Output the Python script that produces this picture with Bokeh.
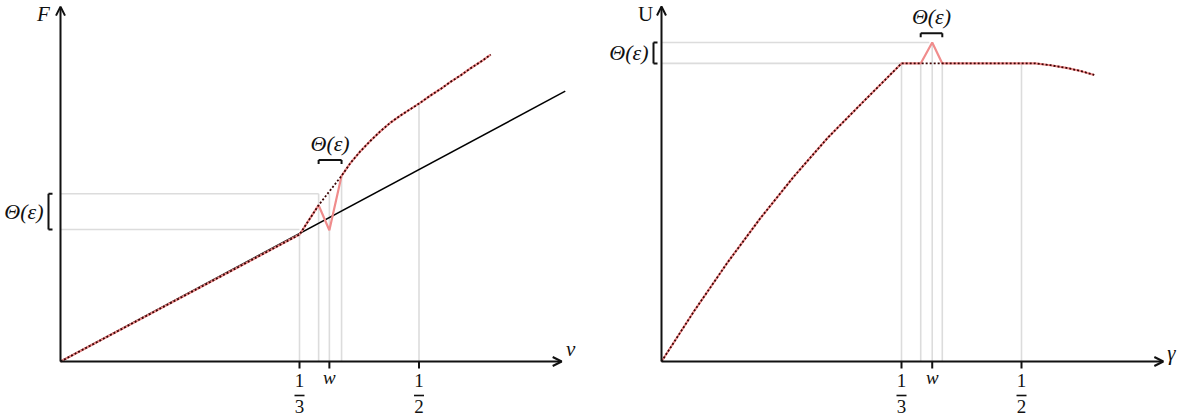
from bokeh.plotting import figure
from bokeh.layouts import row
from bokeh.models import Arrow, OpenHead, Range1d
from bokeh.core.properties import value
from bokeh.embed import file_html
from bokeh.resources import INLINE

# ---------------- data: left panel (F against nu) ----------------
W_LEFT = 0.375
nu_main = [0.0, 1/3, 0.360, 0.392, 0.4045, 0.418, 0.432, 0.446, 0.460, 0.474, 0.488, 0.502,
           0.516, 0.530, 0.544, 0.558, 0.572, 0.586, 0.600]
F_main = [0.0, 0.177, 0.218, 0.259, 0.277, 0.293, 0.3075, 0.321, 0.333, 0.343, 0.352, 0.361,
          0.371, 0.380, 0.390, 0.399, 0.409, 0.418, 0.428]
nu_dip = [0.360, 0.375, 0.392]
F_dip = [0.218, 0.183, 0.259]
nu_lin = [0.0, 0.704]
F_lin = [0.0, 0.377]
nu_vlines = [1/3, 0.360, 0.375, 0.392, 0.5]
F_vtops = [0.177, 0.234, 0.234, 0.259, 0.360]
F_hlines = [0.234, 0.184]
nu_hends = [0.360, 1/3]
nu_ticks = [1/3, W_LEFT, 0.5]

# ---------------- data: right panel (U against gamma) ----------------
W_RIGHT = 0.376
g_main = [0.0, 0.0458, 0.0917, 0.1375, 0.1833, 0.2306, 0.2764, 1/3, 0.360, 0.390, 0.519,
          0.540, 0.564, 0.582, 0.601]
U_main = [0.0, 0.0708, 0.1375, 0.1993, 0.2563, 0.3104, 0.3569, 0.414, 0.414, 0.414, 0.414,
          0.4115, 0.4075, 0.4035, 0.398]
g_bump = [0.360, 0.376, 0.390]
U_bump = [0.414, 0.443, 0.414]
g_vlines = [1/3, 0.360, 0.376, 0.390, 0.5]
U_vtops = [0.414, 0.414, 0.443, 0.414, 0.414]
U_hlines = [0.443, 0.414]
g_hends = [0.372, 1/3]
g_ticks = [1/3, W_RIGHT, 0.5]

tick_top = ["1", "w", "1"]
tick_bottom = ["3", "", "2"]
theta_label = "Θ(ε)"

FONT = value("Liberation Serif")
LIGHT_RED = "#f08c8c"
DOT = "#3a0404"
GRAY = "#dcdcdc"
AX = "#111111"


def perturbed(xs, ys, px, py):
    """Main curve with its piece between px[0] and px[-1] replaced by the perturbation."""
    out_x = [x for x in xs if x < px[0]] + list(px) + [x for x in xs if x > px[-1]]
    out_y = [y for x, y in zip(xs, ys) if x < px[0]] + list(py) + \
            [y for x, y in zip(xs, ys) if x > px[-1]]
    return out_x, out_y


def make_panel(width, scale, x_left_px, vx, vtop, hy, hend):
    d = 1.0 / scale  # data units per pixel
    x0 = -x_left_px * d
    y1 = 361 * d
    p = figure(width=width, height=418, output_backend="svg", toolbar_location=None,
               x_range=Range1d(x0, x0 + width * d), y_range=Range1d(y1 - 418 * d, y1),
               x_axis_location=None, y_axis_location=None, min_border=0)
    p.grid.visible = False
    p.outline_line_color = None
    p.background_fill_color = "white"
    # gray guide lines
    p.segment(x0=vx, y0=[0] * len(vx), x1=vx, y1=vtop, line_color=GRAY, line_width=1.6)
    p.segment(x0=[0] * len(hy), y0=hy, x1=hend, y1=hy, line_color=GRAY, line_width=1.6)
    return p, d


# ---------------- left panel ----------------
pL, dL = make_panel(598, 717, 60, nu_vlines, F_vtops, F_hlines, nu_hends)
pL.line(nu_lin, F_lin, line_color="black", line_width=1.5)
xl, yl = perturbed(nu_main, F_main, nu_dip, F_dip)
pL.line(xl, yl, line_color=LIGHT_RED, line_width=2.2)
pL.line(nu_main, F_main, line_color=DOT, line_width=1.8, line_dash="2 2")

# ---------------- right panel ----------------
pR, dR = make_panel(582, 720, 63, g_vlines, U_vtops, U_hlines, g_hends)
xr, yr = perturbed(g_main, U_main, g_bump, U_bump)
pR.line(xr, yr, line_color=LIGHT_RED, line_width=2.2)
pR.line(g_main, U_main, line_color=DOT, line_width=1.8, line_dash="2 2")


def decorate(p, d, x_end, y_end, xlab, ylab, ylab_italic, ticks, lo, hi, br_lo, br_hi, br_w,
             ylab_dx, xlab_dy, xlab_dx):
    # axes with arrows
    p.add_layout(Arrow(end=OpenHead(size=9, line_width=2, line_color=AX), x_start=0, y_start=0,
                       x_end=x_end, y_end=0, line_width=2, line_color=AX))
    p.add_layout(Arrow(end=OpenHead(size=9, line_width=2, line_color=AX), x_start=0, y_start=0,
                       x_end=0, y_end=y_end, line_width=2, line_color=AX))
    p.text(x=[x_end], y=[0], text=[xlab], x_offset=xlab_dx, y_offset=xlab_dy, text_font=FONT,
           text_font_size="21px", text_font_style="italic", text_align="center",
           text_baseline="middle", text_color=AX)
    p.text(x=[0], y=[y_end], text=[ylab], x_offset=ylab_dx, y_offset=7, text_font=FONT,
           text_font_size="21px", text_font_style="italic" if ylab_italic else "normal",
           text_align="center", text_baseline="middle", text_color=AX)
    # ticks and fraction labels
    p.segment(x0=ticks, y0=[0] * 3, x1=ticks, y1=[-7 * d] * 3, line_color=AX, line_width=2)
    p.text(x=ticks, y=[0] * 3, text=tick_top, y_offset=[19, 16, 19], text_font=FONT,
           text_font_size="19px", text_font_style=["normal", "italic", "normal"],
           text_align="center", text_baseline="middle", text_color=AX)
    fr = [ticks[0], ticks[2]]
    p.segment(x0=[t - 5 * d for t in fr], y0=[-34 * d] * 2, x1=[t + 5 * d for t in fr],
              y1=[-34 * d] * 2, line_color=AX, line_width=1.6)
    p.text(x=fr, y=[0, 0], text=[tick_bottom[0], tick_bottom[2]], y_offset=45, text_font=FONT,
           text_font_size="19px", text_align="center", text_baseline="middle", text_color=AX)
    # top bracket with Θ(ε)
    p.segment(x0=[lo], y0=[br_hi], x1=[hi], y1=[br_hi], line_color=AX, line_width=2)
    p.segment(x0=[lo, hi], y0=[br_hi, br_hi], x1=[lo, hi], y1=[br_hi - 4 * d] * 2,
              line_color=AX, line_width=2)
    p.text(x=[(lo + hi) / 2], y=[br_hi], text=[theta_label], y_offset=-17, text_font=FONT,
           text_font_size="22px", text_font_style="italic", text_align="center",
           text_baseline="middle", text_color=AX)
    # side bracket with Θ(ε)
    bx = -br_w * d
    p.segment(x0=[bx], y0=[br_lo[0]], x1=[bx], y1=[br_lo[1]], line_color=AX, line_width=2)
    p.segment(x0=[bx, bx], y0=br_lo, x1=[bx + 4 * d] * 2, y1=br_lo, line_color=AX, line_width=2)
    p.text(x=[bx], y=[(br_lo[0] + br_lo[1]) / 2], text=[theta_label], x_offset=-5,
           text_font=FONT, text_font_size="22px", text_font_style="italic",
           text_align="right", text_baseline="middle", text_color=AX)


decorate(pL, dL, 0.699, 0.495, "ν", "F", True, nu_ticks, 0.360, 0.392,
         [F_hlines[1], F_hlines[0]], 0.281, 12, -17, -13, 9)
decorate(pR, dR, 0.697, 0.493, "γ", "U", False, g_ticks, 0.360, 0.390,
         [U_hlines[1], U_hlines[0]], 0.456, 8, -16, -9, 8)

layout = row(pL, pR)
open("out.html", "w").write(file_html(layout, INLINE))
